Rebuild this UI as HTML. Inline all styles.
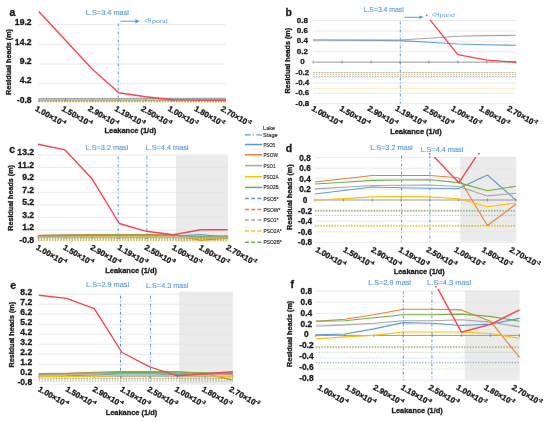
<!DOCTYPE html>
<html><head><meta charset="utf-8"><style>html,body{margin:0;padding:0;background:#fff;width:550px;height:422px;overflow:hidden}svg{display:block;filter:blur(0.3px)}</style></head>
<body><svg width="550" height="422" viewBox="0 0 550 422" font-family="&quot;Liberation Sans&quot;, sans-serif">
<rect width="550" height="422" fill="#fff"/>
<line x1="38.8" y1="24.6" x2="225.5" y2="24.6" stroke="#E5E5E5" stroke-width="0.8"/>
<line x1="38.8" y1="44.3" x2="225.5" y2="44.3" stroke="#E5E5E5" stroke-width="0.8"/>
<line x1="38.8" y1="64.0" x2="225.5" y2="64.0" stroke="#E5E5E5" stroke-width="0.8"/>
<line x1="38.8" y1="83.7" x2="225.5" y2="83.7" stroke="#E5E5E5" stroke-width="0.8"/>
<line x1="38.8" y1="100.2" x2="225.5" y2="100.2" stroke="#999999" stroke-width="1"/>
<line x1="38.8" y1="98.7" x2="38.8" y2="101.7" stroke="#7F7F7F" stroke-width="0.8"/>
<line x1="65.5" y1="98.7" x2="65.5" y2="101.7" stroke="#7F7F7F" stroke-width="0.8"/>
<line x1="92.1" y1="98.7" x2="92.1" y2="101.7" stroke="#7F7F7F" stroke-width="0.8"/>
<line x1="118.8" y1="98.7" x2="118.8" y2="101.7" stroke="#7F7F7F" stroke-width="0.8"/>
<line x1="145.5" y1="98.7" x2="145.5" y2="101.7" stroke="#7F7F7F" stroke-width="0.8"/>
<line x1="172.2" y1="98.7" x2="172.2" y2="101.7" stroke="#7F7F7F" stroke-width="0.8"/>
<line x1="198.8" y1="98.7" x2="198.8" y2="101.7" stroke="#7F7F7F" stroke-width="0.8"/>
<line x1="225.5" y1="98.7" x2="225.5" y2="101.7" stroke="#7F7F7F" stroke-width="0.8"/>
<line x1="118.3" y1="23.5" x2="118.3" y2="103.4" stroke="#5B9BD5" stroke-width="1" stroke-dasharray="3 2 1 2"/>
<polyline points="38.8,98.6 65.5,98.6 92.1,98.6 118.8,98.6 145.5,98.7 172.2,98.9 198.8,98.9 225.5,99.0" fill="none" stroke="#5B9BD5" stroke-width="1.1" stroke-linejoin="round" opacity="1"/>
<polyline points="38.8,98.6 65.5,98.6 92.1,98.6 118.8,98.6 145.5,98.4 172.2,98.3 198.8,98.2 225.5,98.2" fill="none" stroke="#A5A5A5" stroke-width="1.1" stroke-linejoin="round" opacity="1"/>
<line x1="38.8" y1="101.4" x2="225.5" y2="101.4" stroke="#5B9BD5" stroke-width="1.1" stroke-dasharray="1.4 1.4" opacity="0.6"/>
<line x1="38.8" y1="101.2" x2="225.5" y2="101.2" stroke="#ED7D31" stroke-width="1.1" stroke-dasharray="1.4 1.4" opacity="0.6"/>
<line x1="38.8" y1="101.3" x2="225.5" y2="101.3" stroke="#A5A5A5" stroke-width="1.1" stroke-dasharray="1.4 1.4" opacity="0.6"/>
<line x1="38.8" y1="102.2" x2="225.5" y2="102.2" stroke="#FFC000" stroke-width="1.1" stroke-dasharray="1.4 1.4" opacity="0.6"/>
<line x1="38.8" y1="101.0" x2="225.5" y2="101.0" stroke="#70AD47" stroke-width="1.1" stroke-dasharray="1.4 1.4" opacity="0.6"/>
<clipPath id="cpa"><rect x="36.8" y="0" width="190.7" height="400"/></clipPath>
<polyline clip-path="url(#cpa)" points="38.8,11.4 65.5,40.2 92.1,69.0 118.8,92.7 145.5,96.8 172.2,99.7 198.8,100.1 225.5,100.3" fill="none" stroke="#F8444E" stroke-width="1.4" stroke-linejoin="round"/>
<text x="31.6" y="25.0" font-size="8.6" font-weight="bold" text-anchor="end" fill="#1a1a1a" stroke="#1a1a1a" stroke-width="0.3" >19.2</text>
<text x="31.6" y="44.5" font-size="8.6" font-weight="bold" text-anchor="end" fill="#1a1a1a" stroke="#1a1a1a" stroke-width="0.3" >14.2</text>
<text x="31.6" y="63.9" font-size="8.6" font-weight="bold" text-anchor="end" fill="#1a1a1a" stroke="#1a1a1a" stroke-width="0.3" >9.2</text>
<text x="31.6" y="83.3" font-size="8.6" font-weight="bold" text-anchor="end" fill="#1a1a1a" stroke="#1a1a1a" stroke-width="0.3" >4.2</text>
<text x="31.6" y="102.8" font-size="8.6" font-weight="bold" text-anchor="end" fill="#1a1a1a" stroke="#1a1a1a" stroke-width="0.3" >-0.8</text>
<text x="9.6" y="16.0" font-size="10.5" font-weight="bold" text-anchor="start" fill="#1a1a1a" stroke="#1a1a1a" stroke-width="0.3" >a</text>
<text transform="translate(10.7,62) rotate(-90)" x="0" y="0" font-size="7" font-weight="bold" text-anchor="middle" fill="#1a1a1a" stroke="#1a1a1a" stroke-width="0.3" textLength="65.8" lengthAdjust="spacingAndGlyphs">Residual heads (m)</text>
<text x="104.5" y="133.3" font-size="7.2" font-weight="bold" text-anchor="start" fill="#1a1a1a" stroke="#1a1a1a" stroke-width="0.3" textLength="51.7" lengthAdjust="spacingAndGlyphs" >Leakance (1/d)</text>
<text x="85.8" y="14.9" font-size="7.6" font-weight="normal" text-anchor="start" fill="#5B9BD5" textLength="43.2" lengthAdjust="spacingAndGlyphs" stroke="#5B9BD5" stroke-width="0.15">L.S=3.4 masl</text>
<g transform="translate(37.3,105.4) rotate(30)"><text x="0" y="0" font-size="8" font-weight="bold" fill="#1a1a1a" stroke="#1a1a1a" stroke-width="0.3" dominant-baseline="hanging">1.00×10<tspan font-size="4.8" dy="-1">-4</tspan></text></g>
<g transform="translate(63.8,105.4) rotate(30)"><text x="0" y="0" font-size="8" font-weight="bold" fill="#1a1a1a" stroke="#1a1a1a" stroke-width="0.3" dominant-baseline="hanging">1.50×10<tspan font-size="4.8" dy="-1">-4</tspan></text></g>
<g transform="translate(90.4,105.4) rotate(30)"><text x="0" y="0" font-size="8" font-weight="bold" fill="#1a1a1a" stroke="#1a1a1a" stroke-width="0.3" dominant-baseline="hanging">2.90×10<tspan font-size="4.8" dy="-1">-4</tspan></text></g>
<g transform="translate(116.9,105.4) rotate(30)"><text x="0" y="0" font-size="8" font-weight="bold" fill="#1a1a1a" stroke="#1a1a1a" stroke-width="0.3" dominant-baseline="hanging">1.19×10<tspan font-size="4.8" dy="-1">-3</tspan></text></g>
<g transform="translate(143.4,105.4) rotate(30)"><text x="0" y="0" font-size="8" font-weight="bold" fill="#1a1a1a" stroke="#1a1a1a" stroke-width="0.3" dominant-baseline="hanging">2.50×10<tspan font-size="4.8" dy="-1">-3</tspan></text></g>
<g transform="translate(170.0,105.4) rotate(30)"><text x="0" y="0" font-size="8" font-weight="bold" fill="#1a1a1a" stroke="#1a1a1a" stroke-width="0.3" dominant-baseline="hanging">1.00×10<tspan font-size="4.8" dy="-1">-2</tspan></text></g>
<g transform="translate(196.5,105.4) rotate(30)"><text x="0" y="0" font-size="8" font-weight="bold" fill="#1a1a1a" stroke="#1a1a1a" stroke-width="0.3" dominant-baseline="hanging">1.80×10<tspan font-size="4.8" dy="-1">-2</tspan></text></g>
<g transform="translate(223.0,105.4) rotate(30)"><text x="0" y="0" font-size="8" font-weight="bold" fill="#1a1a1a" stroke="#1a1a1a" stroke-width="0.3" dominant-baseline="hanging">2.70×10<tspan font-size="4.8" dy="-1">-2</tspan></text></g>
<line x1="120.4" y1="21.2" x2="136.8" y2="21.2" stroke="#5B9BD5" stroke-width="1"/>
<polygon points="135.3,19.0 139.8,21.2 135.3,23.4" fill="#5B9BD5"/>
<text x="144.4" y="22.9" font-size="7.2" fill="#5B9BD5" textLength="7.2" lengthAdjust="spacingAndGlyphs">&lt;H</text>
<text x="152.0" y="22.9" font-size="5.8" fill="#5B9BD5" textLength="15.8" lengthAdjust="spacingAndGlyphs">pond</text>
<line x1="313.1" y1="20.5" x2="515.8" y2="20.5" stroke="#E5E5E5" stroke-width="0.8"/>
<line x1="313.1" y1="30.9" x2="515.8" y2="30.9" stroke="#E5E5E5" stroke-width="0.8"/>
<line x1="313.1" y1="41.3" x2="515.8" y2="41.3" stroke="#E5E5E5" stroke-width="0.8"/>
<line x1="313.1" y1="51.7" x2="515.8" y2="51.7" stroke="#E5E5E5" stroke-width="0.8"/>
<line x1="313.1" y1="72.5" x2="515.8" y2="72.5" stroke="#E5E5E5" stroke-width="0.8"/>
<line x1="313.1" y1="82.9" x2="515.8" y2="82.9" stroke="#E5E5E5" stroke-width="0.8"/>
<line x1="313.1" y1="93.3" x2="515.8" y2="93.3" stroke="#E5E5E5" stroke-width="0.8"/>
<line x1="313.1" y1="103.7" x2="515.8" y2="103.7" stroke="#E5E5E5" stroke-width="0.8"/>
<line x1="313.1" y1="62.1" x2="515.8" y2="62.1" stroke="#999999" stroke-width="1"/>
<line x1="313.1" y1="60.6" x2="313.1" y2="63.6" stroke="#7F7F7F" stroke-width="0.8"/>
<line x1="342.1" y1="60.6" x2="342.1" y2="63.6" stroke="#7F7F7F" stroke-width="0.8"/>
<line x1="371.0" y1="60.6" x2="371.0" y2="63.6" stroke="#7F7F7F" stroke-width="0.8"/>
<line x1="400.0" y1="60.6" x2="400.0" y2="63.6" stroke="#7F7F7F" stroke-width="0.8"/>
<line x1="428.9" y1="60.6" x2="428.9" y2="63.6" stroke="#7F7F7F" stroke-width="0.8"/>
<line x1="457.9" y1="60.6" x2="457.9" y2="63.6" stroke="#7F7F7F" stroke-width="0.8"/>
<line x1="486.8" y1="60.6" x2="486.8" y2="63.6" stroke="#7F7F7F" stroke-width="0.8"/>
<line x1="515.8" y1="60.6" x2="515.8" y2="63.6" stroke="#7F7F7F" stroke-width="0.8"/>
<line x1="400.3" y1="21.5" x2="400.3" y2="103.7" stroke="#5B9BD5" stroke-width="1" stroke-dasharray="3 2 1 2"/>
<polyline points="313.1,40.0 342.1,40.2 371.0,40.4 400.0,40.6 428.9,42.3 457.9,44.0 486.8,44.8 515.8,45.2" fill="none" stroke="#5B9BD5" stroke-width="1.1" stroke-linejoin="round" opacity="1"/>
<polyline points="313.1,40.0 342.1,40.0 371.0,40.0 400.0,40.0 428.9,38.3 457.9,36.2 486.8,35.6 515.8,35.3" fill="none" stroke="#A5A5A5" stroke-width="1.1" stroke-linejoin="round" opacity="1"/>
<line x1="313.1" y1="76.9" x2="515.8" y2="76.9" stroke="#5B9BD5" stroke-width="1.1" stroke-dasharray="1.4 1.4" opacity="0.6"/>
<line x1="313.1" y1="74.4" x2="515.8" y2="74.4" stroke="#ED7D31" stroke-width="1.1" stroke-dasharray="1.4 1.4" opacity="0.6"/>
<line x1="313.1" y1="76.5" x2="515.8" y2="76.5" stroke="#A5A5A5" stroke-width="1.1" stroke-dasharray="1.4 1.4" opacity="0.6"/>
<line x1="313.1" y1="88.2" x2="515.8" y2="88.2" stroke="#FFC000" stroke-width="1.1" stroke-dasharray="1.4 1.4" opacity="0.6"/>
<line x1="313.1" y1="72.5" x2="515.8" y2="72.5" stroke="#70AD47" stroke-width="1.1" stroke-dasharray="1.4 1.4" opacity="0.6"/>
<clipPath id="cpb"><rect x="311.1" y="19.6" width="206.6" height="400"/></clipPath>
<polyline clip-path="url(#cpb)" points="429.9,19.6 457.8,54.6 486.9,60.1 515.7,62.2" fill="none" stroke="#F8444E" stroke-width="1.4" stroke-linejoin="round"/>
<circle cx="426.7" cy="15.4" r="0.9" fill="#F8444E"/>
<text x="302.4" y="22.6" font-size="8" font-weight="bold" text-anchor="middle" fill="#1a1a1a" stroke="#1a1a1a" stroke-width="0.3" >0.8</text>
<text x="302.4" y="33.0" font-size="8" font-weight="bold" text-anchor="middle" fill="#1a1a1a" stroke="#1a1a1a" stroke-width="0.3" >0.6</text>
<text x="302.4" y="43.4" font-size="8" font-weight="bold" text-anchor="middle" fill="#1a1a1a" stroke="#1a1a1a" stroke-width="0.3" >0.4</text>
<text x="302.4" y="53.8" font-size="8" font-weight="bold" text-anchor="middle" fill="#1a1a1a" stroke="#1a1a1a" stroke-width="0.3" >0.2</text>
<text x="302.4" y="64.2" font-size="8" font-weight="bold" text-anchor="middle" fill="#1a1a1a" stroke="#1a1a1a" stroke-width="0.3" >0</text>
<text x="302.4" y="74.6" font-size="8" font-weight="bold" text-anchor="middle" fill="#1a1a1a" stroke="#1a1a1a" stroke-width="0.3" >-0.2</text>
<text x="302.4" y="85.0" font-size="8" font-weight="bold" text-anchor="middle" fill="#1a1a1a" stroke="#1a1a1a" stroke-width="0.3" >-0.4</text>
<text x="302.4" y="95.4" font-size="8" font-weight="bold" text-anchor="middle" fill="#1a1a1a" stroke="#1a1a1a" stroke-width="0.3" >-0.6</text>
<text x="302.4" y="105.8" font-size="8" font-weight="bold" text-anchor="middle" fill="#1a1a1a" stroke="#1a1a1a" stroke-width="0.3" >-0.8</text>
<text x="285.6" y="16.4" font-size="10.5" font-weight="bold" text-anchor="start" fill="#1a1a1a" stroke="#1a1a1a" stroke-width="0.3" >b</text>
<text transform="translate(289.8,60.75) rotate(-90)" x="0" y="0" font-size="7" font-weight="bold" text-anchor="middle" fill="#1a1a1a" stroke="#1a1a1a" stroke-width="0.3" textLength="65.7" lengthAdjust="spacingAndGlyphs">Residual heads (m)</text>
<text x="390.2" y="134.3" font-size="7.2" font-weight="bold" text-anchor="start" fill="#1a1a1a" stroke="#1a1a1a" stroke-width="0.3" textLength="51.6" lengthAdjust="spacingAndGlyphs" >Leakance (1/d)</text>
<text x="363.6" y="12.1" font-size="7.6" font-weight="normal" text-anchor="start" fill="#5B9BD5" textLength="40.2" lengthAdjust="spacingAndGlyphs" stroke="#5B9BD5" stroke-width="0.15">L.S=3.4 masl</text>
<g transform="translate(313.9,105.2) rotate(30)"><text x="0" y="0" font-size="8" font-weight="bold" fill="#1a1a1a" stroke="#1a1a1a" stroke-width="0.3" dominant-baseline="hanging">1.00×10<tspan font-size="4.8" dy="-1">-4</tspan></text></g>
<g transform="translate(341.8,105.2) rotate(30)"><text x="0" y="0" font-size="8" font-weight="bold" fill="#1a1a1a" stroke="#1a1a1a" stroke-width="0.3" dominant-baseline="hanging">1.50×10<tspan font-size="4.8" dy="-1">-4</tspan></text></g>
<g transform="translate(369.7,105.2) rotate(30)"><text x="0" y="0" font-size="8" font-weight="bold" fill="#1a1a1a" stroke="#1a1a1a" stroke-width="0.3" dominant-baseline="hanging">2.90×10<tspan font-size="4.8" dy="-1">-4</tspan></text></g>
<g transform="translate(397.6,105.2) rotate(30)"><text x="0" y="0" font-size="8" font-weight="bold" fill="#1a1a1a" stroke="#1a1a1a" stroke-width="0.3" dominant-baseline="hanging">1.19×10<tspan font-size="4.8" dy="-1">-3</tspan></text></g>
<g transform="translate(425.5,105.2) rotate(30)"><text x="0" y="0" font-size="8" font-weight="bold" fill="#1a1a1a" stroke="#1a1a1a" stroke-width="0.3" dominant-baseline="hanging">2.50×10<tspan font-size="4.8" dy="-1">-3</tspan></text></g>
<g transform="translate(453.4,105.2) rotate(30)"><text x="0" y="0" font-size="8" font-weight="bold" fill="#1a1a1a" stroke="#1a1a1a" stroke-width="0.3" dominant-baseline="hanging">1.00×10<tspan font-size="4.8" dy="-1">-2</tspan></text></g>
<g transform="translate(481.3,105.2) rotate(30)"><text x="0" y="0" font-size="8" font-weight="bold" fill="#1a1a1a" stroke="#1a1a1a" stroke-width="0.3" dominant-baseline="hanging">1.80×10<tspan font-size="4.8" dy="-1">-2</tspan></text></g>
<g transform="translate(509.2,105.2) rotate(30)"><text x="0" y="0" font-size="8" font-weight="bold" fill="#1a1a1a" stroke="#1a1a1a" stroke-width="0.3" dominant-baseline="hanging">2.70×10<tspan font-size="4.8" dy="-1">-2</tspan></text></g>
<line x1="404.5" y1="17.3" x2="420.9" y2="17.3" stroke="#5B9BD5" stroke-width="1"/>
<polygon points="419.4,15.5 423.9,17.3 419.4,19.1" fill="#5B9BD5"/>
<text x="432.1" y="16.7" font-size="7.2" fill="#5B9BD5" textLength="7.2" lengthAdjust="spacingAndGlyphs">&lt;H</text>
<text x="439.7" y="16.7" font-size="5.8" fill="#5B9BD5" textLength="15.1" lengthAdjust="spacingAndGlyphs">pond</text>
<rect x="176" y="155.6" width="52.1" height="86.8" fill="#EBEBEB"/>
<line x1="38.0" y1="154.9" x2="227.7" y2="154.9" stroke="#E5E5E5" stroke-width="0.8"/>
<line x1="38.0" y1="167.4" x2="227.7" y2="167.4" stroke="#E5E5E5" stroke-width="0.8"/>
<line x1="38.0" y1="179.9" x2="227.7" y2="179.9" stroke="#E5E5E5" stroke-width="0.8"/>
<line x1="38.0" y1="192.4" x2="227.7" y2="192.4" stroke="#E5E5E5" stroke-width="0.8"/>
<line x1="38.0" y1="204.9" x2="227.7" y2="204.9" stroke="#E5E5E5" stroke-width="0.8"/>
<line x1="38.0" y1="217.4" x2="227.7" y2="217.4" stroke="#E5E5E5" stroke-width="0.8"/>
<line x1="38.0" y1="229.9" x2="227.7" y2="229.9" stroke="#E5E5E5" stroke-width="0.8"/>
<line x1="38.0" y1="237.4" x2="227.7" y2="237.4" stroke="#999999" stroke-width="1"/>
<line x1="38.0" y1="235.9" x2="38.0" y2="238.9" stroke="#7F7F7F" stroke-width="0.8"/>
<line x1="65.1" y1="235.9" x2="65.1" y2="238.9" stroke="#7F7F7F" stroke-width="0.8"/>
<line x1="92.2" y1="235.9" x2="92.2" y2="238.9" stroke="#7F7F7F" stroke-width="0.8"/>
<line x1="119.3" y1="235.9" x2="119.3" y2="238.9" stroke="#7F7F7F" stroke-width="0.8"/>
<line x1="146.4" y1="235.9" x2="146.4" y2="238.9" stroke="#7F7F7F" stroke-width="0.8"/>
<line x1="173.5" y1="235.9" x2="173.5" y2="238.9" stroke="#7F7F7F" stroke-width="0.8"/>
<line x1="200.6" y1="235.9" x2="200.6" y2="238.9" stroke="#7F7F7F" stroke-width="0.8"/>
<line x1="227.7" y1="235.9" x2="227.7" y2="238.9" stroke="#7F7F7F" stroke-width="0.8"/>
<line x1="118.2" y1="156.2" x2="118.2" y2="242.4" stroke="#5B9BD5" stroke-width="1" stroke-dasharray="3 2 1 2"/>
<line x1="146.9" y1="156.2" x2="146.9" y2="242.4" stroke="#5B9BD5" stroke-width="1" stroke-dasharray="3 2 1 2"/>
<polyline points="38.0,236.7 65.1,236.3 92.2,235.9 119.3,236.0 146.4,236.0 173.5,236.0 200.6,234.5 227.7,237.4" fill="none" stroke="#5B9BD5" stroke-width="1.1" stroke-linejoin="round" opacity="1"/>
<polyline points="38.0,235.3 65.1,234.9 92.2,234.5 119.3,234.5 146.4,234.5 173.5,234.8 200.6,240.4 227.7,237.9" fill="none" stroke="#ED7D31" stroke-width="1.1" stroke-linejoin="round" opacity="1"/>
<polyline points="38.0,236.1 65.1,235.9 92.2,235.7 119.3,235.7 146.4,235.6 173.5,235.8 200.6,236.9 227.7,236.6" fill="none" stroke="#A5A5A5" stroke-width="1.1" stroke-linejoin="round" opacity="1"/>
<polyline points="38.0,237.4 65.1,237.2 92.2,237.0 119.3,237.0 146.4,237.0 173.5,237.3 200.6,238.2 227.7,237.8" fill="none" stroke="#FFC000" stroke-width="1.1" stroke-linejoin="round" opacity="1"/>
<polyline points="38.0,235.5 65.1,235.3 92.2,235.1 119.3,235.0 146.4,235.0 173.5,235.3 200.6,236.3 227.7,235.8" fill="none" stroke="#70AD47" stroke-width="1.1" stroke-linejoin="round" opacity="1"/>
<line x1="38.0" y1="240.4" x2="227.7" y2="240.4" stroke="#5B9BD5" stroke-width="1.1" stroke-dasharray="1.4 1.4" opacity="0.6"/>
<line x1="38.0" y1="238.7" x2="227.7" y2="238.7" stroke="#ED7D31" stroke-width="1.1" stroke-dasharray="1.4 1.4" opacity="0.6"/>
<line x1="38.0" y1="239.2" x2="227.7" y2="239.2" stroke="#A5A5A5" stroke-width="1.1" stroke-dasharray="1.4 1.4" opacity="0.6"/>
<line x1="38.0" y1="240.5" x2="227.7" y2="240.5" stroke="#FFC000" stroke-width="1.1" stroke-dasharray="1.4 1.4" opacity="0.6"/>
<line x1="38.0" y1="238.6" x2="227.7" y2="238.6" stroke="#70AD47" stroke-width="1.1" stroke-dasharray="1.4 1.4" opacity="0.6"/>
<clipPath id="cpc"><rect x="36" y="0" width="193.7" height="400"/></clipPath>
<polyline clip-path="url(#cpc)" points="38.0,144.2 65.1,149.9 92.2,179.1 119.3,223.5 146.4,231.3 173.5,234.7 200.6,229.8 227.7,229.8" fill="none" stroke="#F8444E" stroke-width="1.4" stroke-linejoin="round"/>
<text x="34.1" y="155.3" font-size="8.6" font-weight="bold" text-anchor="end" fill="#1a1a1a" stroke="#1a1a1a" stroke-width="0.3" >13.2</text>
<text x="34.1" y="167.8" font-size="8.6" font-weight="bold" text-anchor="end" fill="#1a1a1a" stroke="#1a1a1a" stroke-width="0.3" >11.2</text>
<text x="34.1" y="180.3" font-size="8.6" font-weight="bold" text-anchor="end" fill="#1a1a1a" stroke="#1a1a1a" stroke-width="0.3" >9.2</text>
<text x="34.1" y="192.8" font-size="8.6" font-weight="bold" text-anchor="end" fill="#1a1a1a" stroke="#1a1a1a" stroke-width="0.3" >7.2</text>
<text x="34.1" y="205.3" font-size="8.6" font-weight="bold" text-anchor="end" fill="#1a1a1a" stroke="#1a1a1a" stroke-width="0.3" >5.2</text>
<text x="34.1" y="217.8" font-size="8.6" font-weight="bold" text-anchor="end" fill="#1a1a1a" stroke="#1a1a1a" stroke-width="0.3" >3.2</text>
<text x="34.1" y="230.3" font-size="8.6" font-weight="bold" text-anchor="end" fill="#1a1a1a" stroke="#1a1a1a" stroke-width="0.3" >1.2</text>
<text x="34.1" y="242.8" font-size="8.6" font-weight="bold" text-anchor="end" fill="#1a1a1a" stroke="#1a1a1a" stroke-width="0.3" >-0.8</text>
<text x="9.3" y="153.3" font-size="10.5" font-weight="bold" text-anchor="start" fill="#1a1a1a" stroke="#1a1a1a" stroke-width="0.3" >c</text>
<text transform="translate(12.6,197.9) rotate(-90)" x="0" y="0" font-size="7" font-weight="bold" text-anchor="middle" fill="#1a1a1a" stroke="#1a1a1a" stroke-width="0.3" textLength="65.7" lengthAdjust="spacingAndGlyphs">Residual heads (m)</text>
<text x="105.3" y="272.8" font-size="7.2" font-weight="bold" text-anchor="start" fill="#1a1a1a" stroke="#1a1a1a" stroke-width="0.3" textLength="51.6" lengthAdjust="spacingAndGlyphs" >Leakance (1/d)</text>
<text x="85.6" y="149.9" font-size="7.6" font-weight="normal" text-anchor="start" fill="#5B9BD5" textLength="42.8" lengthAdjust="spacingAndGlyphs" stroke="#5B9BD5" stroke-width="0.15">L.S=3.2 masl</text>
<text x="145.6" y="149.9" font-size="7.6" font-weight="normal" text-anchor="start" fill="#5B9BD5" textLength="42.9" lengthAdjust="spacingAndGlyphs" stroke="#5B9BD5" stroke-width="0.15">L.S=4.4 masl</text>
<g transform="translate(38.3,244.2) rotate(30)"><text x="0" y="0" font-size="8" font-weight="bold" fill="#1a1a1a" stroke="#1a1a1a" stroke-width="0.3" dominant-baseline="hanging">1.00×10<tspan font-size="4.8" dy="-1">-4</tspan></text></g>
<g transform="translate(65.4,244.2) rotate(30)"><text x="0" y="0" font-size="8" font-weight="bold" fill="#1a1a1a" stroke="#1a1a1a" stroke-width="0.3" dominant-baseline="hanging">1.50×10<tspan font-size="4.8" dy="-1">-4</tspan></text></g>
<g transform="translate(92.6,244.2) rotate(30)"><text x="0" y="0" font-size="8" font-weight="bold" fill="#1a1a1a" stroke="#1a1a1a" stroke-width="0.3" dominant-baseline="hanging">2.90×10<tspan font-size="4.8" dy="-1">-4</tspan></text></g>
<g transform="translate(119.7,244.2) rotate(30)"><text x="0" y="0" font-size="8" font-weight="bold" fill="#1a1a1a" stroke="#1a1a1a" stroke-width="0.3" dominant-baseline="hanging">1.19×10<tspan font-size="4.8" dy="-1">-3</tspan></text></g>
<g transform="translate(146.9,244.2) rotate(30)"><text x="0" y="0" font-size="8" font-weight="bold" fill="#1a1a1a" stroke="#1a1a1a" stroke-width="0.3" dominant-baseline="hanging">2.50×10<tspan font-size="4.8" dy="-1">-3</tspan></text></g>
<g transform="translate(174.0,244.2) rotate(30)"><text x="0" y="0" font-size="8" font-weight="bold" fill="#1a1a1a" stroke="#1a1a1a" stroke-width="0.3" dominant-baseline="hanging">1.00×10<tspan font-size="4.8" dy="-1">-2</tspan></text></g>
<g transform="translate(201.1,244.2) rotate(30)"><text x="0" y="0" font-size="8" font-weight="bold" fill="#1a1a1a" stroke="#1a1a1a" stroke-width="0.3" dominant-baseline="hanging">1.80×10<tspan font-size="4.8" dy="-1">-2</tspan></text></g>
<g transform="translate(228.3,244.2) rotate(30)"><text x="0" y="0" font-size="8" font-weight="bold" fill="#1a1a1a" stroke="#1a1a1a" stroke-width="0.3" dominant-baseline="hanging">2.70×10<tspan font-size="4.8" dy="-1">-2</tspan></text></g>
<rect x="460.3" y="156.7" width="55.9" height="84.8" fill="#EBEBEB"/>
<line x1="314.8" y1="157.6" x2="516.1" y2="157.6" stroke="#E5E5E5" stroke-width="0.8"/>
<line x1="314.8" y1="168.2" x2="516.1" y2="168.2" stroke="#E5E5E5" stroke-width="0.8"/>
<line x1="314.8" y1="178.8" x2="516.1" y2="178.8" stroke="#E5E5E5" stroke-width="0.8"/>
<line x1="314.8" y1="189.4" x2="516.1" y2="189.4" stroke="#E5E5E5" stroke-width="0.8"/>
<line x1="314.8" y1="210.6" x2="516.1" y2="210.6" stroke="#E5E5E5" stroke-width="0.8"/>
<line x1="314.8" y1="221.2" x2="516.1" y2="221.2" stroke="#E5E5E5" stroke-width="0.8"/>
<line x1="314.8" y1="231.8" x2="516.1" y2="231.8" stroke="#E5E5E5" stroke-width="0.8"/>
<line x1="314.8" y1="242.4" x2="516.1" y2="242.4" stroke="#E5E5E5" stroke-width="0.8"/>
<line x1="314.8" y1="200.0" x2="516.1" y2="200.0" stroke="#999999" stroke-width="1"/>
<line x1="314.8" y1="198.5" x2="314.8" y2="201.5" stroke="#7F7F7F" stroke-width="0.8"/>
<line x1="343.6" y1="198.5" x2="343.6" y2="201.5" stroke="#7F7F7F" stroke-width="0.8"/>
<line x1="372.3" y1="198.5" x2="372.3" y2="201.5" stroke="#7F7F7F" stroke-width="0.8"/>
<line x1="401.1" y1="198.5" x2="401.1" y2="201.5" stroke="#7F7F7F" stroke-width="0.8"/>
<line x1="429.8" y1="198.5" x2="429.8" y2="201.5" stroke="#7F7F7F" stroke-width="0.8"/>
<line x1="458.6" y1="198.5" x2="458.6" y2="201.5" stroke="#7F7F7F" stroke-width="0.8"/>
<line x1="487.4" y1="198.5" x2="487.4" y2="201.5" stroke="#7F7F7F" stroke-width="0.8"/>
<line x1="516.1" y1="198.5" x2="516.1" y2="201.5" stroke="#7F7F7F" stroke-width="0.8"/>
<line x1="401.6" y1="155.6" x2="401.6" y2="242.4" stroke="#5B9BD5" stroke-width="1" stroke-dasharray="3 2 1 2"/>
<line x1="429.9" y1="155.6" x2="429.9" y2="242.4" stroke="#5B9BD5" stroke-width="1" stroke-dasharray="3 2 1 2"/>
<polyline points="314.8,194.0 343.6,190.5 372.3,187.0 401.1,187.8 429.8,188.3 458.6,188.5 487.4,175.0 516.1,200.3" fill="none" stroke="#5B9BD5" stroke-width="1.1" stroke-linejoin="round" opacity="1"/>
<polyline points="314.8,182.0 343.6,178.8 372.3,175.5 401.1,175.5 429.8,175.5 458.6,177.8 487.4,225.5 516.1,204.0" fill="none" stroke="#ED7D31" stroke-width="1.1" stroke-linejoin="round" opacity="1"/>
<polyline points="314.8,188.9 343.6,187.2 372.3,185.5 401.1,185.2 429.8,185.0 458.6,186.5 487.4,195.9 516.1,193.3" fill="none" stroke="#A5A5A5" stroke-width="1.1" stroke-linejoin="round" opacity="1"/>
<polyline points="314.8,200.3 343.6,198.6 372.3,196.9 401.1,196.5 429.8,196.9 458.6,198.8 487.4,206.8 516.1,203.0" fill="none" stroke="#FFC000" stroke-width="1.1" stroke-linejoin="round" opacity="1"/>
<polyline points="314.8,184.0 343.6,182.2 372.3,180.4 401.1,180.0 429.8,179.8 458.6,182.6 487.4,190.7 516.1,186.2" fill="none" stroke="#70AD47" stroke-width="1.1" stroke-linejoin="round" opacity="1"/>
<line x1="314.8" y1="225.6" x2="516.1" y2="225.6" stroke="#5B9BD5" stroke-width="1.1" stroke-dasharray="1.4 1.4" opacity="0.6"/>
<line x1="314.8" y1="211.4" x2="516.1" y2="211.4" stroke="#ED7D31" stroke-width="1.1" stroke-dasharray="1.4 1.4" opacity="0.6"/>
<line x1="314.8" y1="215.4" x2="516.1" y2="215.4" stroke="#A5A5A5" stroke-width="1.1" stroke-dasharray="1.4 1.4" opacity="0.6"/>
<line x1="314.8" y1="226.4" x2="516.1" y2="226.4" stroke="#FFC000" stroke-width="1.1" stroke-dasharray="1.4 1.4" opacity="0.6"/>
<line x1="314.8" y1="210.4" x2="516.1" y2="210.4" stroke="#70AD47" stroke-width="1.1" stroke-dasharray="1.4 1.4" opacity="0.6"/>
<clipPath id="cpd"><rect x="312.8" y="156.9" width="205.3" height="400"/></clipPath>
<polyline clip-path="url(#cpd)" points="429.8,152.2 458.8,182.8 487.3,139.6" fill="none" stroke="#F8444E" stroke-width="1.4" stroke-linejoin="round"/>
<circle cx="429.6" cy="153.7" r="0.9" fill="#F8444E"/>
<circle cx="478.9" cy="153.7" r="0.9" fill="#F8444E"/>
<text x="305.0" y="160.6" font-size="8.2" font-weight="bold" text-anchor="middle" fill="#1a1a1a" stroke="#1a1a1a" stroke-width="0.3" >0.8</text>
<text x="305.0" y="171.2" font-size="8.2" font-weight="bold" text-anchor="middle" fill="#1a1a1a" stroke="#1a1a1a" stroke-width="0.3" >0.6</text>
<text x="305.0" y="181.8" font-size="8.2" font-weight="bold" text-anchor="middle" fill="#1a1a1a" stroke="#1a1a1a" stroke-width="0.3" >0.4</text>
<text x="305.0" y="192.4" font-size="8.2" font-weight="bold" text-anchor="middle" fill="#1a1a1a" stroke="#1a1a1a" stroke-width="0.3" >0.2</text>
<text x="305.0" y="203.0" font-size="8.2" font-weight="bold" text-anchor="middle" fill="#1a1a1a" stroke="#1a1a1a" stroke-width="0.3" >0</text>
<text x="305.0" y="213.6" font-size="8.2" font-weight="bold" text-anchor="middle" fill="#1a1a1a" stroke="#1a1a1a" stroke-width="0.3" >-0.2</text>
<text x="305.0" y="224.2" font-size="8.2" font-weight="bold" text-anchor="middle" fill="#1a1a1a" stroke="#1a1a1a" stroke-width="0.3" >-0.4</text>
<text x="305.0" y="234.8" font-size="8.2" font-weight="bold" text-anchor="middle" fill="#1a1a1a" stroke="#1a1a1a" stroke-width="0.3" >-0.6</text>
<text x="305.0" y="245.4" font-size="8.2" font-weight="bold" text-anchor="middle" fill="#1a1a1a" stroke="#1a1a1a" stroke-width="0.3" >-0.8</text>
<text x="285.8" y="152.4" font-size="10.5" font-weight="bold" text-anchor="start" fill="#1a1a1a" stroke="#1a1a1a" stroke-width="0.3" >d</text>
<text transform="translate(292.1,197.2) rotate(-90)" x="0" y="0" font-size="7" font-weight="bold" text-anchor="middle" fill="#1a1a1a" stroke="#1a1a1a" stroke-width="0.3" textLength="65.4" lengthAdjust="spacingAndGlyphs">Residual heads (m)</text>
<text x="393.8" y="274.3" font-size="7.2" font-weight="bold" text-anchor="start" fill="#1a1a1a" stroke="#1a1a1a" stroke-width="0.3" textLength="50.9" lengthAdjust="spacingAndGlyphs" >Leakance (1/d)</text>
<text x="370.3" y="150.4" font-size="7.6" font-weight="normal" text-anchor="start" fill="#5B9BD5" textLength="42.4" lengthAdjust="spacingAndGlyphs" stroke="#5B9BD5" stroke-width="0.15">L.S=3.2 masl</text>
<text x="420.4" y="151.6" font-size="7.6" font-weight="normal" text-anchor="start" fill="#5B9BD5" textLength="42.9" lengthAdjust="spacingAndGlyphs" stroke="#5B9BD5" stroke-width="0.15">L.S=4.4 masl</text>
<g transform="translate(317.7,246.4) rotate(30)"><text x="0" y="0" font-size="8" font-weight="bold" fill="#1a1a1a" stroke="#1a1a1a" stroke-width="0.3" dominant-baseline="hanging">1.00×10<tspan font-size="4.8" dy="-1">-4</tspan></text></g>
<g transform="translate(345.4,246.4) rotate(30)"><text x="0" y="0" font-size="8" font-weight="bold" fill="#1a1a1a" stroke="#1a1a1a" stroke-width="0.3" dominant-baseline="hanging">1.50×10<tspan font-size="4.8" dy="-1">-4</tspan></text></g>
<g transform="translate(373.2,246.4) rotate(30)"><text x="0" y="0" font-size="8" font-weight="bold" fill="#1a1a1a" stroke="#1a1a1a" stroke-width="0.3" dominant-baseline="hanging">2.90×10<tspan font-size="4.8" dy="-1">-4</tspan></text></g>
<g transform="translate(400.9,246.4) rotate(30)"><text x="0" y="0" font-size="8" font-weight="bold" fill="#1a1a1a" stroke="#1a1a1a" stroke-width="0.3" dominant-baseline="hanging">1.19×10<tspan font-size="4.8" dy="-1">-3</tspan></text></g>
<g transform="translate(428.6,246.4) rotate(30)"><text x="0" y="0" font-size="8" font-weight="bold" fill="#1a1a1a" stroke="#1a1a1a" stroke-width="0.3" dominant-baseline="hanging">2.50×10<tspan font-size="4.8" dy="-1">-3</tspan></text></g>
<g transform="translate(456.3,246.4) rotate(30)"><text x="0" y="0" font-size="8" font-weight="bold" fill="#1a1a1a" stroke="#1a1a1a" stroke-width="0.3" dominant-baseline="hanging">1.00×10<tspan font-size="4.8" dy="-1">-2</tspan></text></g>
<g transform="translate(484.1,246.4) rotate(30)"><text x="0" y="0" font-size="8" font-weight="bold" fill="#1a1a1a" stroke="#1a1a1a" stroke-width="0.3" dominant-baseline="hanging">1.80×10<tspan font-size="4.8" dy="-1">-2</tspan></text></g>
<g transform="translate(511.8,246.4) rotate(30)"><text x="0" y="0" font-size="8" font-weight="bold" fill="#1a1a1a" stroke="#1a1a1a" stroke-width="0.3" dominant-baseline="hanging">2.70×10<tspan font-size="4.8" dy="-1">-2</tspan></text></g>
<rect x="179.2" y="291.7" width="53.6" height="92.5" fill="#EBEBEB"/>
<line x1="38.9" y1="294.2" x2="232.8" y2="294.2" stroke="#E5E5E5" stroke-width="0.8"/>
<line x1="38.9" y1="304.2" x2="232.8" y2="304.2" stroke="#E5E5E5" stroke-width="0.8"/>
<line x1="38.9" y1="314.2" x2="232.8" y2="314.2" stroke="#E5E5E5" stroke-width="0.8"/>
<line x1="38.9" y1="324.2" x2="232.8" y2="324.2" stroke="#E5E5E5" stroke-width="0.8"/>
<line x1="38.9" y1="334.2" x2="232.8" y2="334.2" stroke="#E5E5E5" stroke-width="0.8"/>
<line x1="38.9" y1="344.2" x2="232.8" y2="344.2" stroke="#E5E5E5" stroke-width="0.8"/>
<line x1="38.9" y1="354.2" x2="232.8" y2="354.2" stroke="#E5E5E5" stroke-width="0.8"/>
<line x1="38.9" y1="364.2" x2="232.8" y2="364.2" stroke="#E5E5E5" stroke-width="0.8"/>
<line x1="38.9" y1="374.2" x2="232.8" y2="374.2" stroke="#E5E5E5" stroke-width="0.8"/>
<line x1="38.9" y1="384.2" x2="232.8" y2="384.2" stroke="#E5E5E5" stroke-width="0.8"/>
<line x1="38.9" y1="376.2" x2="232.8" y2="376.2" stroke="#999999" stroke-width="1"/>
<line x1="38.9" y1="374.7" x2="38.9" y2="377.7" stroke="#7F7F7F" stroke-width="0.8"/>
<line x1="66.6" y1="374.7" x2="66.6" y2="377.7" stroke="#7F7F7F" stroke-width="0.8"/>
<line x1="94.3" y1="374.7" x2="94.3" y2="377.7" stroke="#7F7F7F" stroke-width="0.8"/>
<line x1="122.0" y1="374.7" x2="122.0" y2="377.7" stroke="#7F7F7F" stroke-width="0.8"/>
<line x1="149.7" y1="374.7" x2="149.7" y2="377.7" stroke="#7F7F7F" stroke-width="0.8"/>
<line x1="177.4" y1="374.7" x2="177.4" y2="377.7" stroke="#7F7F7F" stroke-width="0.8"/>
<line x1="205.1" y1="374.7" x2="205.1" y2="377.7" stroke="#7F7F7F" stroke-width="0.8"/>
<line x1="232.8" y1="374.7" x2="232.8" y2="377.7" stroke="#7F7F7F" stroke-width="0.8"/>
<line x1="120.5" y1="295.7" x2="120.5" y2="384.2" stroke="#5B9BD5" stroke-width="1" stroke-dasharray="3 2 1 2"/>
<line x1="150.5" y1="295.7" x2="150.5" y2="384.2" stroke="#5B9BD5" stroke-width="1" stroke-dasharray="3 2 1 2"/>
<polyline points="38.9,376.1 66.6,375.9 94.3,375.0 122.0,373.9 149.7,374.0 177.4,374.4 205.1,374.1 232.8,373.1" fill="none" stroke="#5B9BD5" stroke-width="1.1" stroke-linejoin="round" opacity="1"/>
<polyline points="38.9,373.6 66.6,373.3 94.3,372.4 122.0,371.5 149.7,371.5 177.4,371.6 205.1,373.6 232.8,380.1" fill="none" stroke="#ED7D31" stroke-width="1.1" stroke-linejoin="round" opacity="1"/>
<polyline points="38.9,374.5 66.6,374.3 94.3,374.0 122.0,373.5 149.7,373.5 177.4,373.4 205.1,373.8 232.8,374.6" fill="none" stroke="#A5A5A5" stroke-width="1.1" stroke-linejoin="round" opacity="1"/>
<polyline points="38.9,376.8 66.6,376.4 94.3,376.2 122.0,375.6 149.7,375.6 177.4,375.6 205.1,375.8 232.8,376.7" fill="none" stroke="#FFC000" stroke-width="1.1" stroke-linejoin="round" opacity="1"/>
<polyline points="38.9,373.6 66.6,373.5 94.3,373.0 122.0,372.4 149.7,372.4 177.4,372.3 205.1,372.7 232.8,373.6" fill="none" stroke="#70AD47" stroke-width="1.1" stroke-linejoin="round" opacity="1"/>
<line x1="38.9" y1="381.0" x2="232.8" y2="381.0" stroke="#5B9BD5" stroke-width="1.1" stroke-dasharray="1.4 1.4" opacity="0.6"/>
<line x1="38.9" y1="378.4" x2="232.8" y2="378.4" stroke="#ED7D31" stroke-width="1.1" stroke-dasharray="1.4 1.4" opacity="0.6"/>
<line x1="38.9" y1="379.2" x2="232.8" y2="379.2" stroke="#A5A5A5" stroke-width="1.1" stroke-dasharray="1.4 1.4" opacity="0.6"/>
<line x1="38.9" y1="381.3" x2="232.8" y2="381.3" stroke="#FFC000" stroke-width="1.1" stroke-dasharray="1.4 1.4" opacity="0.6"/>
<line x1="38.9" y1="378.2" x2="232.8" y2="378.2" stroke="#70AD47" stroke-width="1.1" stroke-dasharray="1.4 1.4" opacity="0.6"/>
<clipPath id="cpe"><rect x="36.9" y="0" width="197.9" height="400"/></clipPath>
<polyline clip-path="url(#cpe)" points="38.9,295.2 66.6,298.4 94.3,308.7 122.0,352.5 149.7,366.9 177.4,375.8 205.1,373.8 232.8,371.7" fill="none" stroke="#F8444E" stroke-width="1.4" stroke-linejoin="round"/>
<text x="32.2" y="295.1" font-size="8.6" font-weight="bold" text-anchor="end" fill="#1a1a1a" stroke="#1a1a1a" stroke-width="0.3" >8.2</text>
<text x="32.2" y="305.1" font-size="8.6" font-weight="bold" text-anchor="end" fill="#1a1a1a" stroke="#1a1a1a" stroke-width="0.3" >7.2</text>
<text x="32.2" y="315.1" font-size="8.6" font-weight="bold" text-anchor="end" fill="#1a1a1a" stroke="#1a1a1a" stroke-width="0.3" >6.2</text>
<text x="32.2" y="325.1" font-size="8.6" font-weight="bold" text-anchor="end" fill="#1a1a1a" stroke="#1a1a1a" stroke-width="0.3" >5.2</text>
<text x="32.2" y="335.1" font-size="8.6" font-weight="bold" text-anchor="end" fill="#1a1a1a" stroke="#1a1a1a" stroke-width="0.3" >4.2</text>
<text x="32.2" y="345.1" font-size="8.6" font-weight="bold" text-anchor="end" fill="#1a1a1a" stroke="#1a1a1a" stroke-width="0.3" >3.2</text>
<text x="32.2" y="355.1" font-size="8.6" font-weight="bold" text-anchor="end" fill="#1a1a1a" stroke="#1a1a1a" stroke-width="0.3" >2.2</text>
<text x="32.2" y="365.1" font-size="8.6" font-weight="bold" text-anchor="end" fill="#1a1a1a" stroke="#1a1a1a" stroke-width="0.3" >1.2</text>
<text x="32.2" y="375.1" font-size="8.6" font-weight="bold" text-anchor="end" fill="#1a1a1a" stroke="#1a1a1a" stroke-width="0.3" >0.2</text>
<text x="32.2" y="385.1" font-size="8.6" font-weight="bold" text-anchor="end" fill="#1a1a1a" stroke="#1a1a1a" stroke-width="0.3" >-0.8</text>
<text x="10.2" y="288.5" font-size="10.5" font-weight="bold" text-anchor="start" fill="#1a1a1a" stroke="#1a1a1a" stroke-width="0.3" >e</text>
<text transform="translate(13.5,334.7) rotate(-90)" x="0" y="0" font-size="7" font-weight="bold" text-anchor="middle" fill="#1a1a1a" stroke="#1a1a1a" stroke-width="0.3" textLength="65.4" lengthAdjust="spacingAndGlyphs">Residual heads (m)</text>
<text x="105.7" y="415.3" font-size="7.2" font-weight="bold" text-anchor="start" fill="#1a1a1a" stroke="#1a1a1a" stroke-width="0.3" textLength="51.5" lengthAdjust="spacingAndGlyphs" >Leakance (1/d)</text>
<text x="86.1" y="287.3" font-size="7.6" font-weight="normal" text-anchor="start" fill="#5B9BD5" textLength="43.0" lengthAdjust="spacingAndGlyphs" stroke="#5B9BD5" stroke-width="0.15">L.S=2.9 masl</text>
<text x="146.1" y="287.6" font-size="7.6" font-weight="normal" text-anchor="start" fill="#5B9BD5" textLength="42.4" lengthAdjust="spacingAndGlyphs" stroke="#5B9BD5" stroke-width="0.15">L.S=4.3 masl</text>
<g transform="translate(40.4,385.9) rotate(30)"><text x="0" y="0" font-size="8" font-weight="bold" fill="#1a1a1a" stroke="#1a1a1a" stroke-width="0.3" dominant-baseline="hanging">1.00×10<tspan font-size="4.8" dy="-1">-4</tspan></text></g>
<g transform="translate(67.7,385.9) rotate(30)"><text x="0" y="0" font-size="8" font-weight="bold" fill="#1a1a1a" stroke="#1a1a1a" stroke-width="0.3" dominant-baseline="hanging">1.50×10<tspan font-size="4.8" dy="-1">-4</tspan></text></g>
<g transform="translate(94.9,385.9) rotate(30)"><text x="0" y="0" font-size="8" font-weight="bold" fill="#1a1a1a" stroke="#1a1a1a" stroke-width="0.3" dominant-baseline="hanging">2.90×10<tspan font-size="4.8" dy="-1">-4</tspan></text></g>
<g transform="translate(122.2,385.9) rotate(30)"><text x="0" y="0" font-size="8" font-weight="bold" fill="#1a1a1a" stroke="#1a1a1a" stroke-width="0.3" dominant-baseline="hanging">1.19×10<tspan font-size="4.8" dy="-1">-3</tspan></text></g>
<g transform="translate(149.5,385.9) rotate(30)"><text x="0" y="0" font-size="8" font-weight="bold" fill="#1a1a1a" stroke="#1a1a1a" stroke-width="0.3" dominant-baseline="hanging">2.50×10<tspan font-size="4.8" dy="-1">-3</tspan></text></g>
<g transform="translate(176.8,385.9) rotate(30)"><text x="0" y="0" font-size="8" font-weight="bold" fill="#1a1a1a" stroke="#1a1a1a" stroke-width="0.3" dominant-baseline="hanging">1.00×10<tspan font-size="4.8" dy="-1">-2</tspan></text></g>
<g transform="translate(204.0,385.9) rotate(30)"><text x="0" y="0" font-size="8" font-weight="bold" fill="#1a1a1a" stroke="#1a1a1a" stroke-width="0.3" dominant-baseline="hanging">1.80×10<tspan font-size="4.8" dy="-1">-2</tspan></text></g>
<g transform="translate(231.3,385.9) rotate(30)"><text x="0" y="0" font-size="8" font-weight="bold" fill="#1a1a1a" stroke="#1a1a1a" stroke-width="0.3" dominant-baseline="hanging">2.70×10<tspan font-size="4.8" dy="-1">-2</tspan></text></g>
<rect x="464.8" y="290.4" width="54.8" height="89.0" fill="#EBEBEB"/>
<line x1="315.8" y1="291.1" x2="519.5" y2="291.1" stroke="#E5E5E5" stroke-width="0.8"/>
<line x1="315.8" y1="302.2" x2="519.5" y2="302.2" stroke="#E5E5E5" stroke-width="0.8"/>
<line x1="315.8" y1="313.4" x2="519.5" y2="313.4" stroke="#E5E5E5" stroke-width="0.8"/>
<line x1="315.8" y1="324.5" x2="519.5" y2="324.5" stroke="#E5E5E5" stroke-width="0.8"/>
<line x1="315.8" y1="346.7" x2="519.5" y2="346.7" stroke="#E5E5E5" stroke-width="0.8"/>
<line x1="315.8" y1="357.9" x2="519.5" y2="357.9" stroke="#E5E5E5" stroke-width="0.8"/>
<line x1="315.8" y1="369.0" x2="519.5" y2="369.0" stroke="#E5E5E5" stroke-width="0.8"/>
<line x1="315.8" y1="380.1" x2="519.5" y2="380.1" stroke="#E5E5E5" stroke-width="0.8"/>
<line x1="315.8" y1="335.4" x2="519.5" y2="335.4" stroke="#999999" stroke-width="1"/>
<line x1="315.8" y1="333.9" x2="315.8" y2="336.9" stroke="#7F7F7F" stroke-width="0.8"/>
<line x1="344.9" y1="333.9" x2="344.9" y2="336.9" stroke="#7F7F7F" stroke-width="0.8"/>
<line x1="374.0" y1="333.9" x2="374.0" y2="336.9" stroke="#7F7F7F" stroke-width="0.8"/>
<line x1="403.1" y1="333.9" x2="403.1" y2="336.9" stroke="#7F7F7F" stroke-width="0.8"/>
<line x1="432.2" y1="333.9" x2="432.2" y2="336.9" stroke="#7F7F7F" stroke-width="0.8"/>
<line x1="461.3" y1="333.9" x2="461.3" y2="336.9" stroke="#7F7F7F" stroke-width="0.8"/>
<line x1="490.4" y1="333.9" x2="490.4" y2="336.9" stroke="#7F7F7F" stroke-width="0.8"/>
<line x1="519.5" y1="333.9" x2="519.5" y2="336.9" stroke="#7F7F7F" stroke-width="0.8"/>
<line x1="403.3" y1="291.4" x2="403.3" y2="380.1" stroke="#5B9BD5" stroke-width="1" stroke-dasharray="3 2 1 2"/>
<line x1="431.9" y1="291.4" x2="431.9" y2="380.1" stroke="#5B9BD5" stroke-width="1" stroke-dasharray="3 2 1 2"/>
<polyline points="315.8,334.9 344.9,334.0 374.0,328.9 403.1,322.6 432.2,323.2 461.3,325.5 490.4,324.1 519.5,318.4" fill="none" stroke="#5B9BD5" stroke-width="1.1" stroke-linejoin="round" opacity="1"/>
<polyline points="315.8,321.2 344.9,319.2 374.0,314.7 403.1,309.3 432.2,309.3 461.3,309.9 490.4,321.2 519.5,357.3" fill="none" stroke="#ED7D31" stroke-width="1.1" stroke-linejoin="round" opacity="1"/>
<polyline points="315.8,326.3 344.9,324.9 374.0,323.2 403.1,320.7 432.2,320.7 461.3,319.8 490.4,322.1 519.5,326.9" fill="none" stroke="#A5A5A5" stroke-width="1.1" stroke-linejoin="round" opacity="1"/>
<polyline points="315.8,338.9 344.9,336.9 374.0,335.4 403.1,332.0 432.2,332.0 461.3,332.0 490.4,333.5 519.5,338.3" fill="none" stroke="#FFC000" stroke-width="1.1" stroke-linejoin="round" opacity="1"/>
<polyline points="315.8,321.2 344.9,320.7 374.0,317.8 403.1,314.7 432.2,314.7 461.3,314.1 490.4,316.4 519.5,321.2" fill="none" stroke="#70AD47" stroke-width="1.1" stroke-linejoin="round" opacity="1"/>
<line x1="315.8" y1="362.4" x2="519.5" y2="362.4" stroke="#5B9BD5" stroke-width="1.1" stroke-dasharray="1.4 1.4" opacity="0.6"/>
<line x1="315.8" y1="347.8" x2="519.5" y2="347.8" stroke="#ED7D31" stroke-width="1.1" stroke-dasharray="1.4 1.4" opacity="0.6"/>
<line x1="315.8" y1="352.3" x2="519.5" y2="352.3" stroke="#A5A5A5" stroke-width="1.1" stroke-dasharray="1.4 1.4" opacity="0.6"/>
<line x1="315.8" y1="363.7" x2="519.5" y2="363.7" stroke="#FFC000" stroke-width="1.1" stroke-dasharray="1.4 1.4" opacity="0.6"/>
<line x1="315.8" y1="346.9" x2="519.5" y2="346.9" stroke="#70AD47" stroke-width="1.1" stroke-dasharray="1.4 1.4" opacity="0.6"/>
<clipPath id="cpf"><rect x="313.8" y="288.8" width="207.7" height="400"/></clipPath>
<polyline clip-path="url(#cpf)" points="432.2,278.3 461.4,332.2 491.1,324.1 519.5,309.9" fill="none" stroke="#F8444E" stroke-width="1.4" stroke-linejoin="round"/>
<circle cx="435.9" cy="286.6" r="0.9" fill="#F8444E"/>
<text x="306.4" y="293.9" font-size="8.4" font-weight="bold" text-anchor="middle" fill="#1a1a1a" stroke="#1a1a1a" stroke-width="0.3" >0.8</text>
<text x="306.4" y="304.8" font-size="8.4" font-weight="bold" text-anchor="middle" fill="#1a1a1a" stroke="#1a1a1a" stroke-width="0.3" >0.6</text>
<text x="306.4" y="315.7" font-size="8.4" font-weight="bold" text-anchor="middle" fill="#1a1a1a" stroke="#1a1a1a" stroke-width="0.3" >0.4</text>
<text x="306.4" y="326.5" font-size="8.4" font-weight="bold" text-anchor="middle" fill="#1a1a1a" stroke="#1a1a1a" stroke-width="0.3" >0.2</text>
<text x="306.4" y="337.4" font-size="8.4" font-weight="bold" text-anchor="middle" fill="#1a1a1a" stroke="#1a1a1a" stroke-width="0.3" >0</text>
<text x="306.4" y="348.3" font-size="8.4" font-weight="bold" text-anchor="middle" fill="#1a1a1a" stroke="#1a1a1a" stroke-width="0.3" >-0.2</text>
<text x="306.4" y="359.2" font-size="8.4" font-weight="bold" text-anchor="middle" fill="#1a1a1a" stroke="#1a1a1a" stroke-width="0.3" >-0.4</text>
<text x="306.4" y="370.1" font-size="8.4" font-weight="bold" text-anchor="middle" fill="#1a1a1a" stroke="#1a1a1a" stroke-width="0.3" >-0.6</text>
<text x="306.4" y="380.9" font-size="8.4" font-weight="bold" text-anchor="middle" fill="#1a1a1a" stroke="#1a1a1a" stroke-width="0.3" >-0.8</text>
<text x="290.6" y="288.3" font-size="10.5" font-weight="bold" text-anchor="start" fill="#1a1a1a" stroke="#1a1a1a" stroke-width="0.3" >f</text>
<text transform="translate(292.4,333.9) rotate(-90)" x="0" y="0" font-size="7" font-weight="bold" text-anchor="middle" fill="#1a1a1a" stroke="#1a1a1a" stroke-width="0.3" textLength="66.2" lengthAdjust="spacingAndGlyphs">Residual heads (m)</text>
<text x="391.5" y="413.2" font-size="7.2" font-weight="bold" text-anchor="start" fill="#1a1a1a" stroke="#1a1a1a" stroke-width="0.3" textLength="51.2" lengthAdjust="spacingAndGlyphs" >Leakance (1/d)</text>
<text x="368.3" y="285.4" font-size="7.6" font-weight="normal" text-anchor="start" fill="#5B9BD5" textLength="42.7" lengthAdjust="spacingAndGlyphs" stroke="#5B9BD5" stroke-width="0.15">L.S=2.9 masl</text>
<text x="427.1" y="285.4" font-size="7.6" font-weight="normal" text-anchor="start" fill="#5B9BD5" textLength="44.1" lengthAdjust="spacingAndGlyphs" stroke="#5B9BD5" stroke-width="0.15">L.S=4.3 masl</text>
<g transform="translate(319.9,384.1) rotate(30)"><text x="0" y="0" font-size="8" font-weight="bold" fill="#1a1a1a" stroke="#1a1a1a" stroke-width="0.3" dominant-baseline="hanging">1.00×10<tspan font-size="4.8" dy="-1">-4</tspan></text></g>
<g transform="translate(347.6,384.1) rotate(30)"><text x="0" y="0" font-size="8" font-weight="bold" fill="#1a1a1a" stroke="#1a1a1a" stroke-width="0.3" dominant-baseline="hanging">1.50×10<tspan font-size="4.8" dy="-1">-4</tspan></text></g>
<g transform="translate(375.4,384.1) rotate(30)"><text x="0" y="0" font-size="8" font-weight="bold" fill="#1a1a1a" stroke="#1a1a1a" stroke-width="0.3" dominant-baseline="hanging">2.90×10<tspan font-size="4.8" dy="-1">-4</tspan></text></g>
<g transform="translate(403.1,384.1) rotate(30)"><text x="0" y="0" font-size="8" font-weight="bold" fill="#1a1a1a" stroke="#1a1a1a" stroke-width="0.3" dominant-baseline="hanging">1.19×10<tspan font-size="4.8" dy="-1">-3</tspan></text></g>
<g transform="translate(430.8,384.1) rotate(30)"><text x="0" y="0" font-size="8" font-weight="bold" fill="#1a1a1a" stroke="#1a1a1a" stroke-width="0.3" dominant-baseline="hanging">2.50×10<tspan font-size="4.8" dy="-1">-3</tspan></text></g>
<g transform="translate(458.6,384.1) rotate(30)"><text x="0" y="0" font-size="8" font-weight="bold" fill="#1a1a1a" stroke="#1a1a1a" stroke-width="0.3" dominant-baseline="hanging">1.00×10<tspan font-size="4.8" dy="-1">-2</tspan></text></g>
<g transform="translate(486.3,384.1) rotate(30)"><text x="0" y="0" font-size="8" font-weight="bold" fill="#1a1a1a" stroke="#1a1a1a" stroke-width="0.3" dominant-baseline="hanging">1.80×10<tspan font-size="4.8" dy="-1">-2</tspan></text></g>
<g transform="translate(514.0,384.1) rotate(30)"><text x="0" y="0" font-size="8" font-weight="bold" fill="#1a1a1a" stroke="#1a1a1a" stroke-width="0.3" dominant-baseline="hanging">2.70×10<tspan font-size="4.8" dy="-1">-2</tspan></text></g>
<line x1="245.0" y1="134.9" x2="262.3" y2="134.9" stroke="#5B9BD5" stroke-width="1.3" stroke-dasharray="5.5 2.3 1.2 2.3"/>
<text x="263.1" y="129.6" font-size="5.8" font-weight="normal" text-anchor="start" fill="#262626" textLength="12.0" lengthAdjust="spacingAndGlyphs" stroke="#262626" stroke-width="0.15">Lake</text>
<text x="263.1" y="136.9" font-size="5.8" font-weight="normal" text-anchor="start" fill="#262626" textLength="14.5" lengthAdjust="spacingAndGlyphs" stroke="#262626" stroke-width="0.15">Stage</text>
<line x1="245.0" y1="144.5" x2="262.3" y2="144.5" stroke="#5B9BD5" stroke-width="1.5"/>
<text x="263.4" y="146.5" font-size="5.6" font-weight="normal" text-anchor="start" fill="#262626" textLength="11.5" lengthAdjust="spacingAndGlyphs" stroke="#262626" stroke-width="0.15">PSO5</text>
<line x1="245.0" y1="154.8" x2="262.3" y2="154.8" stroke="#ED7D31" stroke-width="1.5"/>
<text x="263.4" y="156.8" font-size="5.6" font-weight="normal" text-anchor="start" fill="#262626" textLength="14.5" lengthAdjust="spacingAndGlyphs" stroke="#262626" stroke-width="0.15">PSOW</text>
<line x1="245.0" y1="165.6" x2="262.3" y2="165.6" stroke="#A5A5A5" stroke-width="1.5"/>
<text x="263.4" y="167.6" font-size="5.6" font-weight="normal" text-anchor="start" fill="#262626" textLength="12.0" lengthAdjust="spacingAndGlyphs" stroke="#262626" stroke-width="0.15">PSO1</text>
<line x1="245.0" y1="176.7" x2="262.3" y2="176.7" stroke="#FFC000" stroke-width="1.5"/>
<text x="263.4" y="178.7" font-size="5.6" font-weight="normal" text-anchor="start" fill="#262626" textLength="15.2" lengthAdjust="spacingAndGlyphs" stroke="#262626" stroke-width="0.15">PSO2A</text>
<line x1="245.0" y1="187.4" x2="262.3" y2="187.4" stroke="#70AD47" stroke-width="1.5"/>
<text x="263.4" y="189.4" font-size="5.6" font-weight="normal" text-anchor="start" fill="#262626" textLength="15.2" lengthAdjust="spacingAndGlyphs" stroke="#262626" stroke-width="0.15">PSO2B</text>
<line x1="245.0" y1="198.5" x2="262.3" y2="198.5" stroke="#5B9BD5" stroke-width="1.5" stroke-dasharray="3.8 2.5"/>
<text x="263.4" y="200.5" font-size="5.6" font-weight="normal" text-anchor="start" fill="#262626" textLength="14.9" lengthAdjust="spacingAndGlyphs" stroke="#262626" stroke-width="0.15">PSO5*</text>
<line x1="245.0" y1="209.5" x2="262.3" y2="209.5" stroke="#ED7D31" stroke-width="1.5" stroke-dasharray="3.8 2.5"/>
<text x="263.4" y="211.5" font-size="5.6" font-weight="normal" text-anchor="start" fill="#262626" textLength="17.0" lengthAdjust="spacingAndGlyphs" stroke="#262626" stroke-width="0.15">PSOW*</text>
<line x1="245.0" y1="220.1" x2="262.3" y2="220.1" stroke="#A5A5A5" stroke-width="1.5" stroke-dasharray="3.8 2.5"/>
<text x="263.4" y="222.1" font-size="5.6" font-weight="normal" text-anchor="start" fill="#262626" textLength="15.1" lengthAdjust="spacingAndGlyphs" stroke="#262626" stroke-width="0.15">PSO1*</text>
<line x1="245.0" y1="231.0" x2="262.3" y2="231.0" stroke="#FFC000" stroke-width="1.5" stroke-dasharray="3.8 2.5"/>
<text x="263.4" y="233.0" font-size="5.6" font-weight="normal" text-anchor="start" fill="#262626" textLength="18.3" lengthAdjust="spacingAndGlyphs" stroke="#262626" stroke-width="0.15">PSO2A*</text>
<line x1="245.0" y1="242.2" x2="262.3" y2="242.2" stroke="#70AD47" stroke-width="1.5" stroke-dasharray="3.8 2.5"/>
<text x="263.4" y="244.2" font-size="5.6" font-weight="normal" text-anchor="start" fill="#262626" textLength="18.3" lengthAdjust="spacingAndGlyphs" stroke="#262626" stroke-width="0.15">PSO2B*</text>
</svg></body></html>
